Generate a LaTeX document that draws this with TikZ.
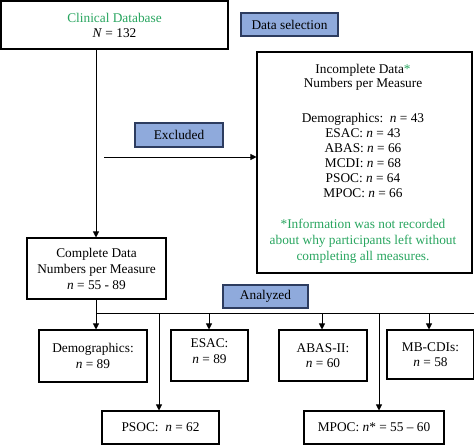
\documentclass[tikz,border=0pt]{standalone}
\usepackage{fontspec}
\setmainfont{Liberation Serif}
\usetikzlibrary{arrows.meta}
\definecolor{grn}{RGB}{40,165,95}
\definecolor{selfill}{RGB}{143,170,220}
\definecolor{seldraw}{RGB}{45,60,95}
\begin{document}
\begin{tikzpicture}[x=0.75pt,y=-0.75pt,
  box/.style={draw, line width=0.8pt, inner sep=0pt, align=center, font=\fontsize{10}{11.5}\selectfont},
  txt/.style={inner sep=0pt, align=center},
  tag/.style={draw=seldraw, fill=selfill, line width=0.8pt, inner sep=0pt, font=\fontsize{10}{12}\selectfont},
  arr/.style={line width=0.6pt, -{Triangle[length=4.5pt,width=4.5pt]}},
  ln/.style={line width=0.6pt}]
\useasboundingbox (0,0) rectangle (474,445);

% top box
\node[box, minimum width=170.25pt, minimum height=36pt, font=\fontsize{10}{11.25}\selectfont] (clin) at (114.5,25)
  {\textcolor{grn}{Clinical Database}\\ \textit{N} = 132};

\node[tag, minimum width=72.75pt, minimum height=17.25pt] (sel) at (289.5,24.5) {Data selection};

% incomplete data box
\node[box, minimum width=161.25pt, minimum height=165.75pt] (inc) at (364.5,162.5) {};
\node[txt, font=\fontsize{10}{10.5}\selectfont] (inchead) at (363,77.5)
  {Incomplete Data\textcolor{grn}{*}\\ Numbers per Measure};
\node[txt, font=\fontsize{10}{11.25}\selectfont] (inclist) at (363,155)
  {Demographics:\ \ \textit{n} = 43\\ ESAC: \textit{n} = 43\\ ABAS: \textit{n} = 66\\ MCDI: \textit{n} = 68\\ PSOC: \textit{n} = 64\\ MPOC: \textit{n} = 66};
\node[txt, text=grn, font=\fontsize{10}{12}\selectfont] (incnote) at (363,241)
  {*Information was not recorded\\ about why participants left without\\ completing all measures.};

\node[tag, minimum width=66pt, minimum height=18pt] (excl) at (179,135) {Excluded};

% complete data
\node[box, minimum width=104.25pt, minimum height=45.75pt, font=\fontsize{10}{12}\selectfont] (comp) at (96.5,268.5)
  {Complete Data\\ Numbers per Measure\\ \textit{n} = 55 - 89};

\node[tag, minimum width=63.75pt, minimum height=17.25pt] (anal) at (265.5,296.5) {Analyzed};

% analysed boxes
\node[box, minimum width=81pt, minimum height=39pt] (demo) at (93,356) {Demographics:\\ \textit{n} = 89};
\node[box, minimum width=57.75pt, minimum height=38.25pt] (esac) at (209.5,355.5) {};
\node[txt, font=\fontsize{10}{11.5}\selectfont] (esact) at (209.5,351) {ESAC:\\ \textit{n} = 89};
\node[box, minimum width=66pt, minimum height=38.25pt] (abas) at (323,355.5) {ABAS-II:\\ \textit{n} = 60};
\node[box, minimum width=65.25pt, minimum height=36.75pt] (mbcdi) at (430.5,354.5) {MB-CDIs:\\ \textit{n} = 58};
\node[box, minimum width=87.75pt, minimum height=24.75pt] (psoc) at (160.5,427.5) {PSOC:\ \ \textit{n} = 62};
\node[box, minimum width=105pt, minimum height=24.75pt] (mpoc) at (374,427.5) {MPOC: \textit{n}* = 55 -- 60};

% connectors
\draw[arr] (clin.south -| 96,0) -- (comp.north -| 96,0);
\coordinate (exs) at (104,157);
\draw[arr] (exs) -- (inc.west |- exs);

\coordinate (busL) at (96,313);
\coordinate (busR) at (474,313);
\draw[ln] (busL) -- (busR);
\draw[arr] (comp.south -| busL) -- (demo.north -| busL);
\coordinate (pb) at (159,313);
\coordinate (eb) at (209,313);
\coordinate (ab) at (322,313);
\coordinate (mb) at (379,313);
\coordinate (cb) at (429,313);
\draw[arr] (pb) -- (psoc.north -| pb);
\draw[arr] (eb) -- (esac.north -| eb);
\draw[arr] (ab) -- (abas.north -| ab);
\draw[arr] (mb) -- (mpoc.north -| mb);
\draw[arr] (cb) -- (mbcdi.north -| cb);
\end{tikzpicture}
\end{document}
